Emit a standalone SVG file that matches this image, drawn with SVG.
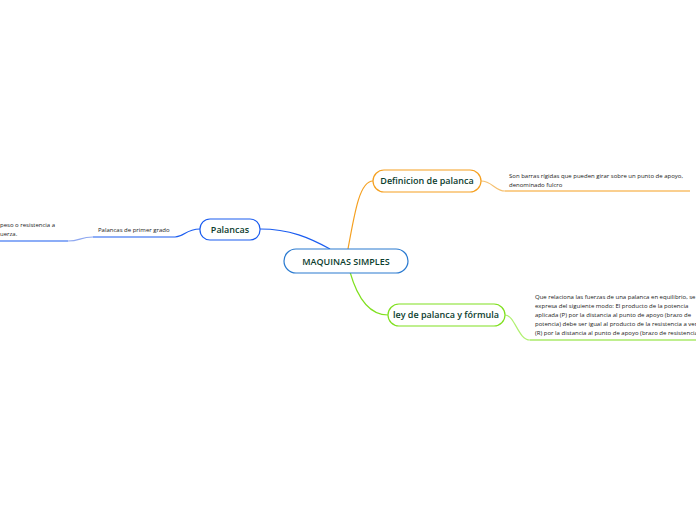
<svg xmlns="http://www.w3.org/2000/svg" width="696" height="520" viewBox="0 0 696 520">
<style>
text{font-family:"Open Sans","Noto Sans",sans-serif;fill:#1a1a1a}
text.n{font-size:9px;font-weight:600;fill:#0b3d2e;text-anchor:middle}
text.s{font-size:6px}
.c{fill:none;stroke-width:1.2}
</style>
<rect width="696" height="520" fill="#fff"/>
<g id="connectors">
<path class="c" stroke="#1a5cf0" d="M330 249 C310 238 290 229 260 229"/>
<path class="c" stroke="#1a5cf0" d="M200 229 C185 229 185 237 175 237"/>
<path class="c" stroke="#1a5cf0" stroke-width="2" d="M175 237 H93"/>
<path class="c" stroke="#8fa8f0" d="M93 237 C80 237 80 241 68 241"/>
<path class="c" stroke="#1a5cf0" stroke-width="2" d="M68 241 H0"/>
<path class="c" stroke="#f5a020" d="M348 249 C355 210 360 181 373 181"/>
<path class="c" stroke="#f5c070" d="M481 181 C492 181 495 191 505 191"/>
<path class="c" stroke="#f5a020" stroke-width="2" d="M505 191 H690"/>
<path class="c" stroke="#80e020" d="M350 272 C358 300 370 315 388 315"/>
<path class="c" stroke="#b0f070" d="M505 315 C515 315 518 340 530 340"/>
<path class="c" stroke="#80e020" stroke-width="2" d="M530 340 H696"/>
</g>
<g id="main"><rect x="284" y="249" width="124" height="24" rx="12" fill="#fff" stroke="#2a7ad0" stroke-width="1.2"/><text class="n" x="346" y="265">MAQUINAS SIMPLES</text></g>
<g id="palancas"><rect x="200" y="219" width="60" height="21" rx="10" fill="#fff" stroke="#1a5cf0" stroke-width="1.2"/><text class="n" x="230" y="233">Palancas</text></g>
<g id="primer"><text class="s" x="98" y="232">Palancas de primer grado</text></g>
<g id="left"><text class="s" x="0" y="227">peso o resistencia a</text><text class="s" x="0" y="236">uerza.</text></g>
<g id="def"><rect x="373" y="170" width="108" height="22" rx="11" fill="#fff" stroke="#f5a020" stroke-width="1.2"/><text class="n" x="427" y="184">Definicion de palanca</text></g>
<g id="deftext"><text class="s" x="509" y="178">Son barras rígidas que pueden girar sobre un punto de apoyo,</text><text class="s" x="509" y="187">denominado fulcro</text></g>
<g id="ley"><rect x="388" y="304" width="117" height="22" rx="11" fill="#fff" stroke="#80e020" stroke-width="1.2"/><text class="n" x="446" y="318">ley de palanca y fórmula</text></g>
<g id="leytext">
<text class="s" x="535" y="299">Que relaciona las fuerzas de una palanca en equilibrio, se</text>
<text class="s" x="535" y="308">expresa del siguiente modo: El producto de la potencia</text>
<text class="s" x="535" y="317">aplicada (P) por la distancia al punto de apoyo (brazo de</text>
<text class="s" x="535" y="326">potencia) debe ser igual al producto de la resistencia a vencer</text>
<text class="s" x="535" y="335">(R) por la distancia al punto de apoyo (brazo de resistencia).</text>
</g>
</svg>
